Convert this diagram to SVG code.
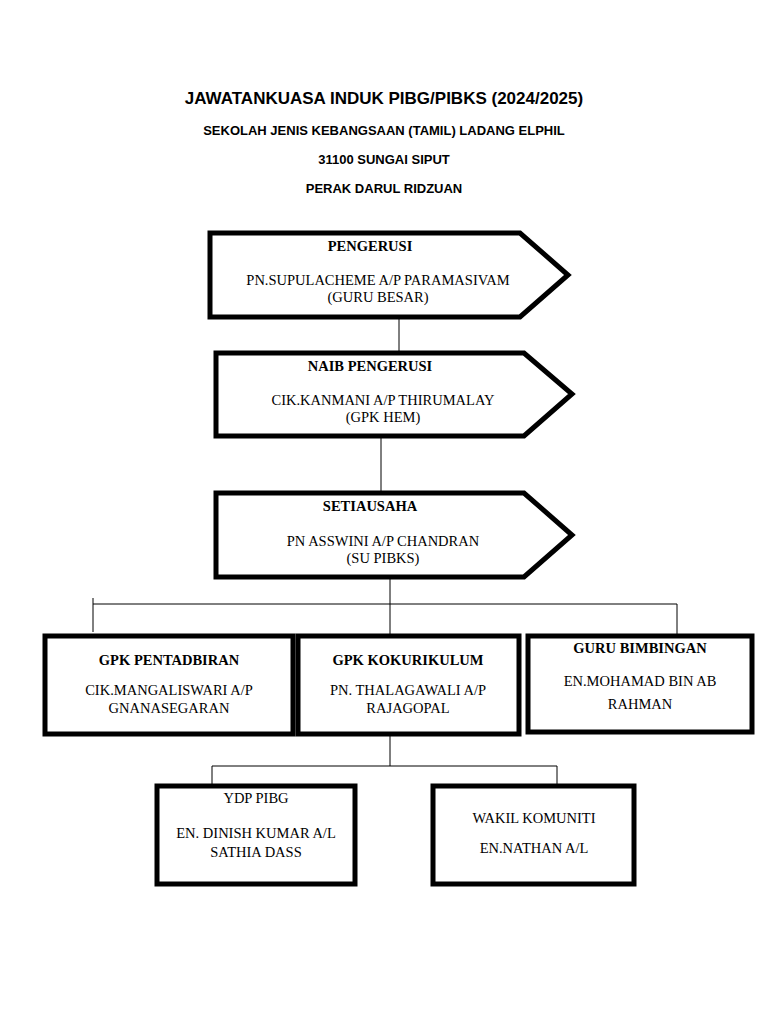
<svg xmlns="http://www.w3.org/2000/svg" width="768" height="1024" viewBox="0 0 768 1024">
<style>
.t{font-family:"Liberation Sans",Arial,sans-serif;font-weight:bold;text-anchor:middle;fill:#000}
.s{font-family:"Liberation Serif","Times New Roman",serif;font-size:14.5px;text-anchor:middle;fill:#000}
.b{font-weight:bold}
.box{fill:#fff;stroke:#000;stroke-width:5;stroke-linejoin:miter}
.ln{stroke:#000;stroke-width:1;fill:none}
</style>
<rect width="768" height="1024" fill="#fff"/>
<text class="t" x="384" y="104" font-size="17">JAWATANKUASA INDUK PIBG/PIBKS (2024/2025)</text>
<text class="t" x="384" y="135" font-size="13">SEKOLAH JENIS KEBANGSAAN (TAMIL) LADANG ELPHIL</text>
<text class="t" x="384" y="164" font-size="13">31100 SUNGAI SIPUT</text>
<text class="t" x="384" y="193" font-size="13">PERAK DARUL RIDZUAN</text>
<g id="connectors">
<path class="ln" d="M399 317V353M381 436V493M390 577V636M93 604H677M93 598V632M677 604V636M390 734V766M212 766H557M212 766V786M557 766V786"/>
</g>
<g id="pengerusi"><path class="box" d="M210 233H520L568 275L520 317H210Z"/>
<text class="s b" x="370" y="251">PENGERUSI</text>
<text class="s" x="378" y="285">PN.SUPULACHEME A/P PARAMASIVAM</text>
<text class="s" x="378" y="302">(GURU BESAR)</text></g>
<g id="naib"><path class="box" d="M216 353H524L572 394L524 436H216Z"/>
<text class="s b" x="370" y="371">NAIB PENGERUSI</text>
<text class="s" x="383" y="405">CIK.KANMANI A/P THIRUMALAY</text>
<text class="s" x="383" y="422">(GPK HEM)</text></g>
<g id="setiausaha"><path class="box" d="M216 493H524L572 535L524 577H216Z"/>
<text class="s b" x="370" y="511">SETIAUSAHA</text>
<text class="s" x="383" y="546">PN ASSWINI A/P CHANDRAN</text>
<text class="s" x="383" y="563">(SU PIBKS)</text></g>
<g id="pentadbiran"><rect class="box" x="45" y="636" width="248" height="98"/>
<text class="s b" x="169" y="665">GPK PENTADBIRAN</text>
<text class="s" x="169" y="695">CIK.MANGALISWARI A/P</text>
<text class="s" x="169" y="713">GNANASEGARAN</text></g>
<g id="kokurikulum"><rect class="box" x="298" y="636" width="221" height="98"/>
<text class="s b" x="408" y="665">GPK KOKURIKULUM</text>
<text class="s" x="408" y="695">PN. THALAGAWALI A/P</text>
<text class="s" x="408" y="713">RAJAGOPAL</text></g>
<g id="bimbingan"><rect class="box" x="528" y="636" width="224" height="96"/>
<text class="s b" x="640" y="653">GURU BIMBINGAN</text>
<text class="s" x="640" y="686">EN.MOHAMAD BIN AB</text>
<text class="s" x="640" y="709">RAHMAN</text></g>
<g id="ydp"><rect class="box" x="157" y="786" width="198" height="98"/>
<text class="s" x="256" y="803">YDP PIBG</text>
<text class="s" x="256" y="838">EN. DINISH KUMAR A/L</text>
<text class="s" x="256" y="857">SATHIA DASS</text></g>
<g id="wakil"><rect class="box" x="433" y="786" width="201" height="98"/>
<text class="s" x="534" y="823">WAKIL KOMUNITI</text>
<text class="s" x="534" y="853">EN.NATHAN A/L</text></g>
</svg>
